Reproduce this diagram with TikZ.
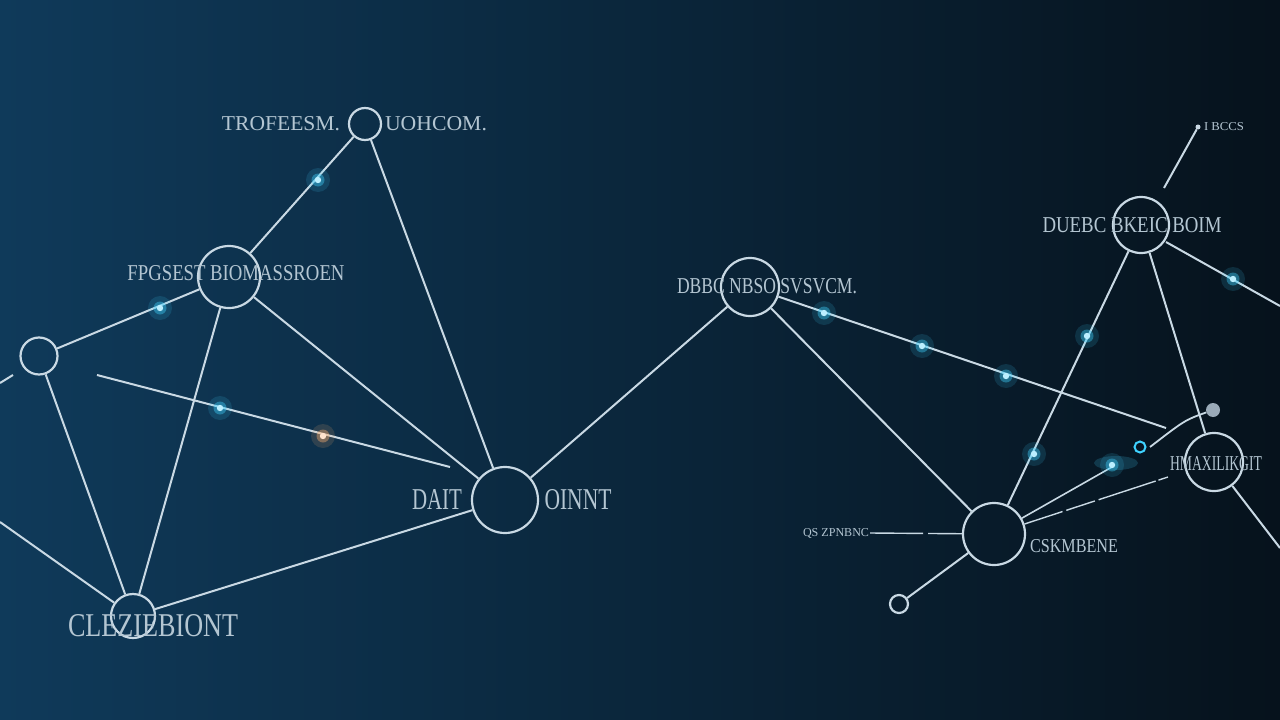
\documentclass[tikz,border=0pt]{standalone}
\usepackage{fontspec}
\setmainfont{Liberation Serif}
\usepackage{graphicx}
\definecolor{bgL}{HTML}{0F3A5A}
\definecolor{bgM}{HTML}{0B2B44}
\definecolor{bgR}{HTML}{06121C}
\definecolor{ln}{HTML}{C9D9E4}
\definecolor{tx}{HTML}{B4C6D2}
\definecolor{glw}{HTML}{3FD2FF}
\definecolor{orng}{HTML}{FFB070}
\definecolor{knob}{HTML}{9AAAB8}
\newcommand\fitlbl[3]{\resizebox{#1pt}{#2pt}{#3}}
\newcommand\glowat[2][glw]{%
  \fill[#1,opacity=0.14] #2 circle (12);
  \fill[#1,opacity=0.4] #2 circle (6.5);
  \fill[#1!35!white] #2 circle (3.2);}
\tikzset{
  nd/.style={circle, draw=ln, line width=2.2pt, inner sep=0pt, minimum size=#1},
  edge/.style={draw=ln, line width=2pt},
  lbl/.style={text=tx, inner sep=0pt},
}
\begin{document}
\begin{tikzpicture}[x=1pt,y=-1pt]
\shade[left color=bgL, middle color=bgM, right color=bgR] (0,0) rectangle (1280,720);
\useasboundingbox (0,0) rectangle (1280,720);

% nodes
\node[nd=32pt] (A) at (365,124) {};
\node[nd=62pt] (B) at (229,277) {};
\node[nd=37pt] (C) at (39,356) {};
\node[nd=66pt] (D) at (505,500) {};
\node[nd=44pt] (E) at (133,616) {};
\node[nd=58pt] (F) at (750,287) {};
\node[nd=56pt] (G) at (1141,225) {};
\node[nd=58pt] (H) at (1214,462) {};
\node[nd=62pt] (I) at (994,534) {};
\node[nd=18pt] (J) at (899,604) {};
\node[circle, fill=knob, inner sep=0pt, minimum size=14pt] (K) at (1213,410) {};
\node[circle, fill=ln, inner sep=0pt, minimum size=5pt] (L) at (1198,127) {};
\node[circle, draw=glw, line width=2pt, inner sep=0pt, minimum size=11pt] (M) at (1140,447) {};

% free end points
\coordinate (cl1) at (0,383);
\coordinate (cl2) at (13,375);
\coordinate (el) at (0,522);
\coordinate (p1) at (97,375);
\coordinate (p2) at (450,467);
\coordinate (fh) at (1166,428);
\coordinate (gr1) at (1166,242);
\coordinate (gr2) at (1280,306);
\coordinate (gl) at (1164,188);
\coordinate (hr) at (1280,548);
\coordinate (ih1) at (1112,467);
\coordinate (ih2) at (1168,477);
\coordinate (qs) at (870,533);
\coordinate (kc) at (1150,447);

% connectors
\draw[edge] (A) -- (B);
\draw[edge] (A) -- (D);
\draw[edge] (B) -- (C);
\draw[edge] (B) -- (D);
\draw[edge] (B) -- (E);
\draw[edge] (C) -- (E);
\draw[edge] (cl1) -- (cl2);
\draw[edge] (el) -- (E);
\draw[edge] (p1) -- (p2);
\draw[edge] (E) -- (D);
\draw[edge] (D) -- (F);
\draw[edge] (F) -- (fh);
\draw[edge] (F) -- (I);
\draw[edge] (I) -- (G);
\draw[edge] (G) -- (H);
\draw[edge] (gr1) -- (gr2);
\draw[edge] (gl) -- (L);
\draw[edge] (H) -- (hr);
\draw[edge] (I) -- (J);
\draw[edge, line width=1.6pt] (I) -- (ih1);
\draw[edge, line width=1.4pt, dash pattern=on 40pt off 4pt on 30pt off 4pt on 60pt off 3pt] (I) -- (ih2);
\draw[edge, line width=1.4pt, dash pattern=on 53pt off 5pt on 40pt] (qs) -- (I);
\draw[edge, line width=1.8pt] (K) .. controls (1185,420) .. (kc);

% glows
\glowat{(318,180)}
\glowat{(160,308)}
\glowat{(220,408)}
\glowat[orng]{(323,436)}
\glowat{(824,313)}
\glowat{(922,346)}
\glowat{(1006,376)}
\glowat{(1087,336)}
\glowat{(1034,454)}
\glowat{(1233,279)}
\fill[glw,opacity=0.18] (1116,463) ellipse (22 and 7);
\glowat{(1112,465)}

% labels
\node[lbl] (tA1) at (281,124) {\fitlbl{118}{14}{TROFEESM.}};
\node[lbl] (tA2) at (436,124) {\fitlbl{102}{14}{UOHCOM.}};
\node[lbl] (tB) at (236,273) {\fitlbl{217}{15}{FPGSEST BIOMASSROEN}};
\node[lbl] (tF) at (767,286) {\fitlbl{180}{15}{DBBC NBSO SVSVCM.}};
\node[lbl] (tD1) at (437,500) {\fitlbl{50}{20}{DAIT}};
\node[lbl] (tD2) at (578,500) {\fitlbl{67}{20}{OINNT}};
\node[lbl] (tE) at (153,626) {\fitlbl{170}{22}{CLEZIEBIONT}};
\node[lbl] (tL) at (1224,127) {\fitlbl{40}{8}{I BCCS}};
\node[lbl] (tG) at (1132,225) {\fitlbl{179}{15}{DUEBC BKEIC BOIM}};
\node[lbl] (tH) at (1216,464) {\fitlbl{92}{14}{HMAXILIKGIT}};
\node[lbl] (tI) at (1074,546) {\fitlbl{88}{13}{CSKMBENE}};
\node[lbl] (tQ) at (836,533) {\fitlbl{66}{8}{QS ZPNBNC}};
\end{tikzpicture}
\end{document}
